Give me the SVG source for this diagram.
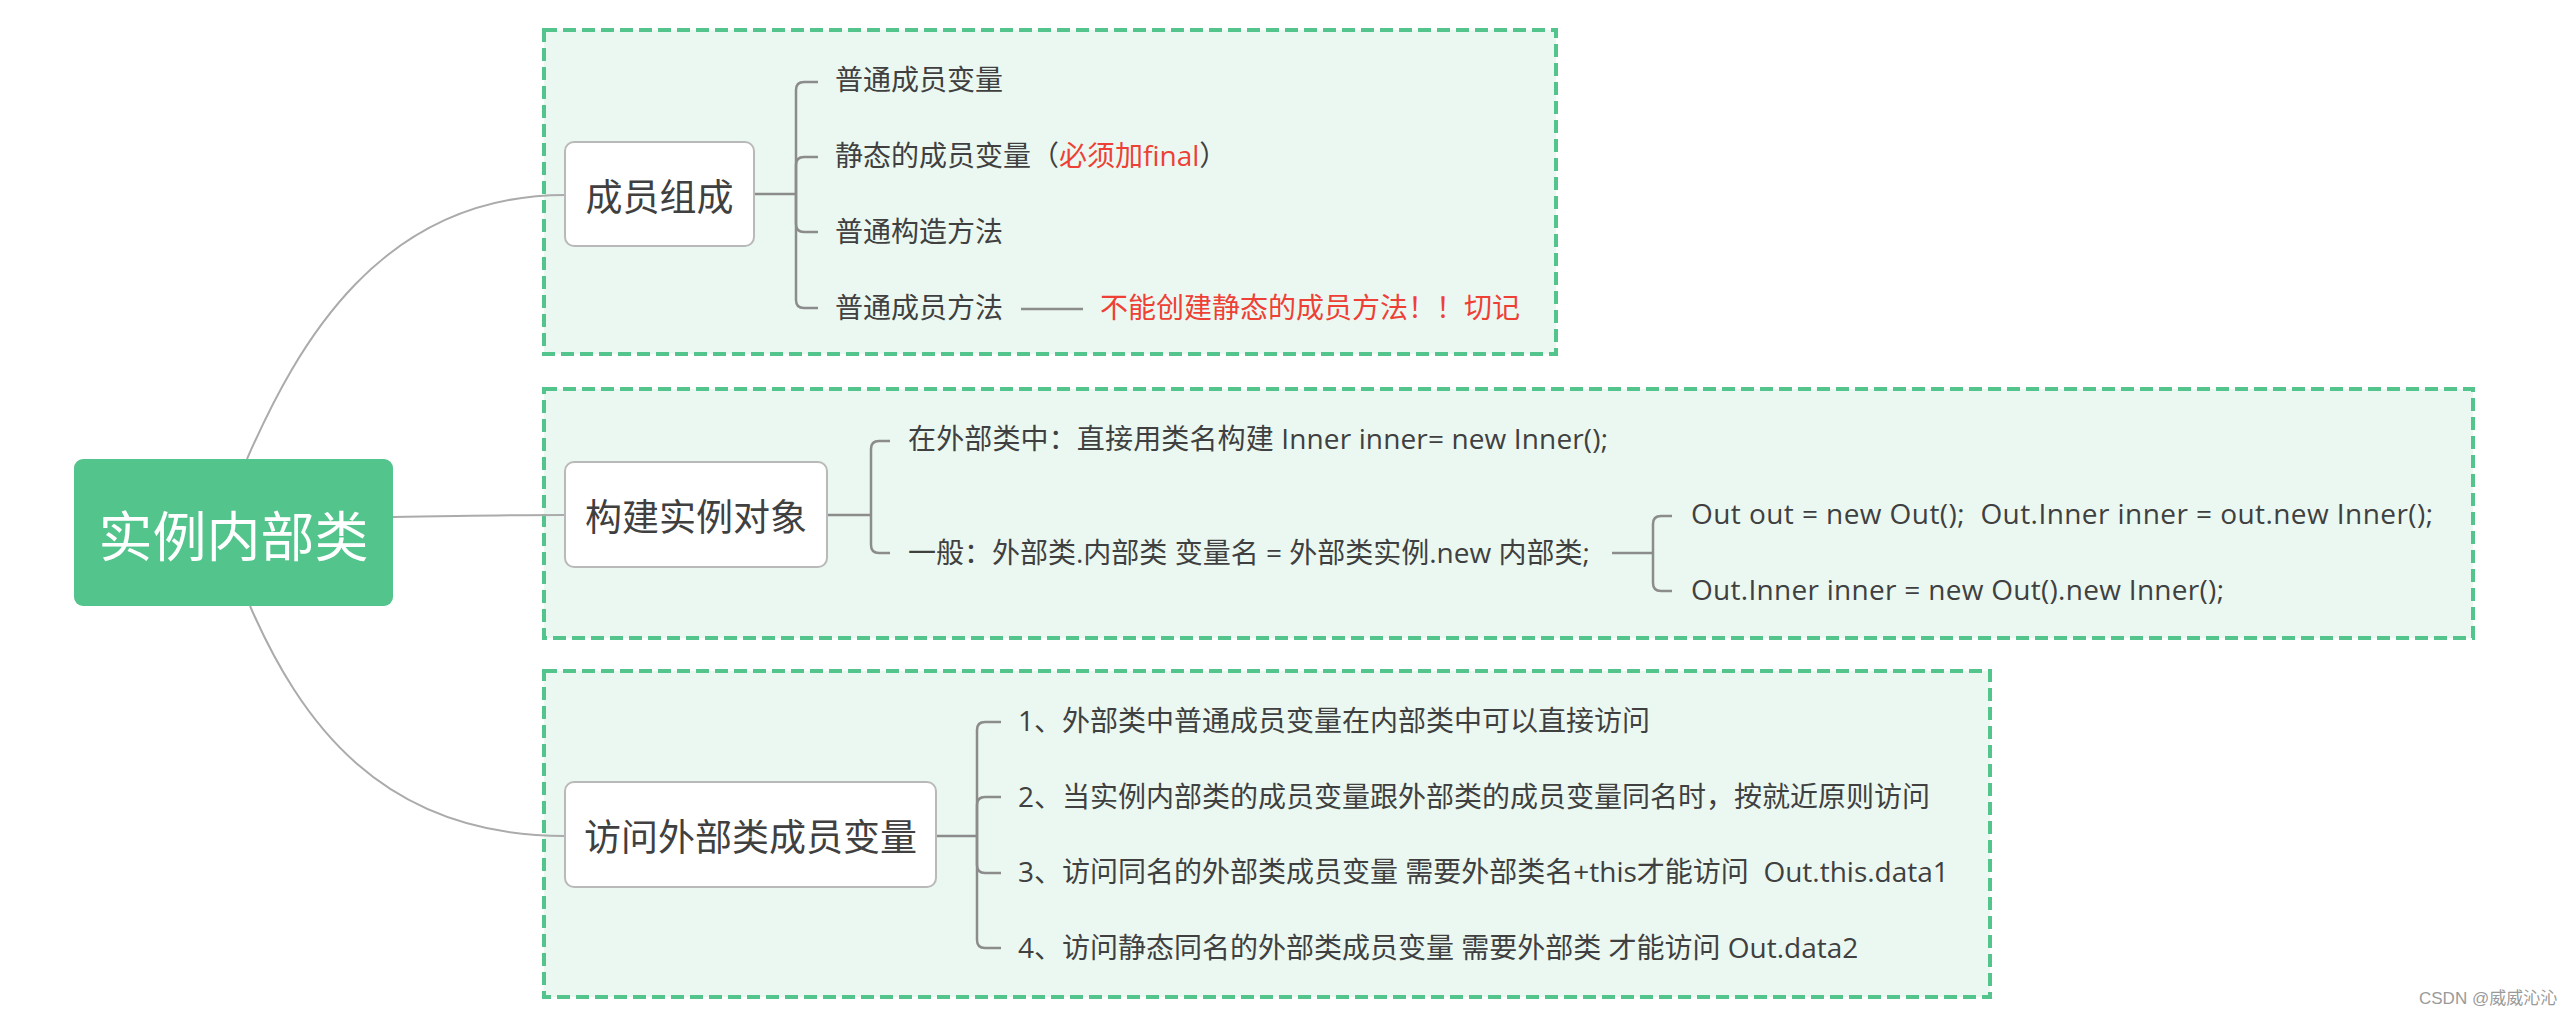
<svg xmlns="http://www.w3.org/2000/svg" width="2572" height="1016" viewBox="0 0 2572 1016">
<style>
.bg{fill:#ffffff}
.grp{fill:#ebf8f1;stroke:#52c48c;stroke-width:4;stroke-dasharray:13 6}
.node{fill:#ffffff;stroke:#b9b9b9;stroke-width:2}
.root{fill:#52c48c}
.curve{fill:none;stroke:#ababab;stroke-width:2}
.br{fill:none;stroke:#8c8c8c;stroke-width:2.5}
.t{font-family:"Open Sans","Noto Sans CJK SC",sans-serif;font-size:28px;fill:#404040}
.title{font-family:"Open Sans","Noto Sans CJK SC",sans-serif;font-size:37px;fill:#404040;text-anchor:middle}
.roott{font-family:"Open Sans","Noto Sans CJK SC",sans-serif;font-size:54px;fill:#ffffff;text-anchor:middle}
.red{fill:#ee4035}
.wm{font-family:"Liberation Sans","Noto Sans CJK SC",sans-serif;font-size:17px;fill:#9a9a9a}
</style>
<rect class="bg" x="0" y="0" width="2572" height="1016"/>
<g id="group-members"><rect class="grp" x="544" y="30" width="1012" height="324"/></g>
<g id="group-construct"><rect class="grp" x="544" y="389" width="1929" height="249"/></g>
<g id="group-access"><rect class="grp" x="544" y="671" width="1446" height="326"/></g>

<g id="connectors">
<path class="curve" d="M247 459 C297 345 380 195 565 195"/>
<path class="curve" d="M393 517 C470 516 500 515 565 515"/>
<path class="curve" d="M250 606 C300 720 380 836 565 836"/>
<path class="br" d="M754 194 H796"/>
<path class="br" d="M796 194 V90 Q796 82 804 82 H818"/>
<path class="br" d="M796 194 V165 Q796 157 804 157 H818"/>
<path class="br" d="M796 194 V224 Q796 232 804 232 H818"/>
<path class="br" d="M796 194 V300 Q796 308 804 308 H818"/>
<path class="br" d="M1021 309 H1083"/>
<path class="br" d="M827 515 H871"/>
<path class="br" d="M871 515 V449 Q871 441 879 441 H890"/>
<path class="br" d="M871 515 V545 Q871 553 879 553 H890"/>
<path class="br" d="M1612 553 H1653"/>
<path class="br" d="M1653 553 V524 Q1653 516 1661 516 H1672"/>
<path class="br" d="M1653 553 V583 Q1653 591 1661 591 H1672"/>
<path class="br" d="M936 836 H977"/>
<path class="br" d="M977 836 V730 Q977 722 985 722 H1001"/>
<path class="br" d="M977 836 V805 Q977 797 985 797 H1001"/>
<path class="br" d="M977 836 V865 Q977 873 985 873 H1001"/>
<path class="br" d="M977 836 V940 Q977 948 985 948 H1001"/>
</g>

<g id="root">
<rect class="root" x="74" y="459" width="319" height="147" rx="9"/>
<text class="roott" x="233.5" y="557">实例内部类</text>
</g>

<g id="node-members">
<rect class="node" x="565" y="142" width="189" height="104" rx="9"/>
<text class="title" x="659.5" y="211">成员组成</text>
</g>
<g id="node-construct">
<rect class="node" x="565" y="462" width="262" height="105" rx="9"/>
<text class="title" x="696" y="531">构建实例对象</text>
</g>
<g id="node-access">
<rect class="node" x="565" y="782" width="371" height="105" rx="9"/>
<text class="title" x="750.5" y="851">访问外部类成员变量</text>
</g>

<g id="m1"><text class="t" x="835" y="90">普通成员变量</text></g>
<g id="m2"><text class="t" x="835" y="166">静态的成员变量（<tspan class="red">必须加final</tspan>）</text></g>
<g id="m3"><text class="t" x="835" y="242">普通构造方法</text></g>
<g id="m4"><text class="t" x="835" y="318">普通成员方法</text></g>
<g id="m4-note"><text class="t red" x="1100" y="318">不能创建静态的成员方法！！切记</text></g>

<g id="c1"><text class="t" x="908" y="449" textLength="700" lengthAdjust="spacing">在外部类中：直接用类名构建 Inner inner= new Inner();</text></g>
<g id="c2"><text class="t" x="908" y="563">一般：外部类.内部类 变量名 = 外部类实例.new 内部类;</text></g>
<g id="c2a"><text class="t" x="1691" y="524" xml:space="preserve" textLength="742" lengthAdjust="spacing">Out out = new Out();  Out.Inner inner = out.new Inner();</text></g>
<g id="c2b"><text class="t" x="1691" y="600" textLength="533" lengthAdjust="spacing">Out.Inner inner = new Out().new Inner();</text></g>

<g id="a1"><text class="t" x="1018" y="731">1、外部类中普通成员变量在内部类中可以直接访问</text></g>
<g id="a2"><text class="t" x="1018" y="807">2、当实例内部类的成员变量跟外部类的成员变量同名时，按就近原则访问</text></g>
<g id="a3"><text class="t" x="1018" y="882" xml:space="preserve">3、访问同名的外部类成员变量 需要外部类名+this才能访问  Out.this.data1</text></g>
<g id="a4"><text class="t" x="1018" y="958">4、访问静态同名的外部类成员变量 需要外部类 才能访问 Out.data2</text></g>

<text class="wm" x="2419" y="1004">CSDN @威威沁沁</text>
</svg>
